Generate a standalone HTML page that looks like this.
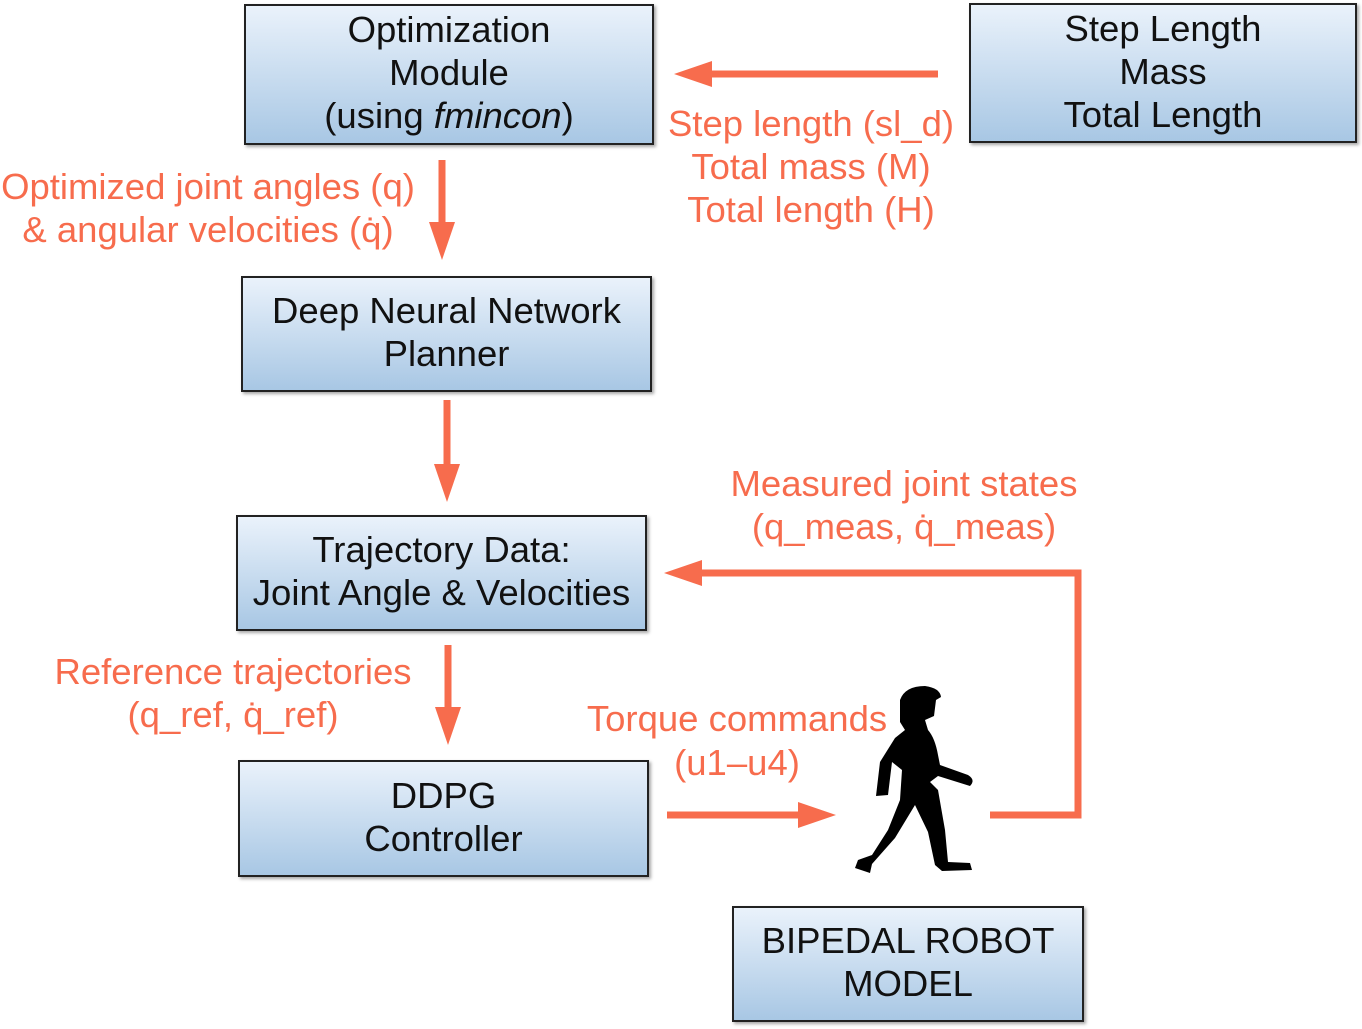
<!DOCTYPE html>
<html><head><meta charset="utf-8"><style>
body{margin:0;background:#fff;width:1362px;height:1029px;position:relative;overflow:hidden;font-family:"Liberation Sans",Arial,sans-serif}
.b{position:absolute;box-sizing:border-box;border:2px solid #222;background:linear-gradient(#eaf2fb,#a8c7e4);display:flex;justify-content:center;align-items:center;text-align:center;font-size:36.5px;line-height:43px;color:#111;box-shadow:2px 2px 3px rgba(0,0,0,.35);white-space:nowrap;padding-bottom:4px}
.b>div{display:block}
.t{position:absolute;color:#f76c4d;font-size:36.5px;line-height:43px;text-align:center;white-space:nowrap;transform:translateX(-50%)}
</style></head><body>
<div class="b" style="left:244px;top:4px;width:410px;height:141px"><div>Optimization<br>Module<br>(using <i>fmincon</i>)</div></div>
<div class="b" style="left:969px;top:3px;width:388px;height:140px"><div>Step Length<br>Mass<br>Total Length</div></div>
<div class="b" style="left:241px;top:276px;width:411px;height:116px"><div>Deep Neural Network<br>Planner</div></div>
<div class="b" style="left:236px;top:515px;width:411px;height:116px"><div>Trajectory Data:<br>Joint Angle &amp; Velocities</div></div>
<div class="b" style="left:238px;top:760px;width:411px;height:117px"><div>DDPG<br>Controller</div></div>
<div class="b" style="left:732px;top:906px;width:352px;height:116px"><div>BIPEDAL ROBOT<br>MODEL</div></div>

<div class="t" style="left:208px;top:165px">Optimized joint angles (q)</div>
<div class="t" style="left:208px;top:208px">&amp; angular velocities (q̇)</div>
<div class="t" style="left:811px;top:102px">Step length (sl_d)</div>
<div class="t" style="left:811px;top:145px">Total mass (M)</div>
<div class="t" style="left:811px;top:188px">Total length (H)</div>
<div class="t" style="left:904px;top:462px">Measured joint states</div>
<div class="t" style="left:904px;top:505px">(q_meas, q̇_meas)</div>
<div class="t" style="left:233px;top:650px">Reference trajectories</div>
<div class="t" style="left:233px;top:693px">(q_ref, q̇_ref)</div>
<div class="t" style="left:737px;top:697px">Torque commands</div>
<div class="t" style="left:737px;top:741px">(u1–u4)</div>

<svg width="1362" height="1029" style="position:absolute;left:0;top:0" xmlns="http://www.w3.org/2000/svg">
<g stroke="#f76c4d" stroke-width="7" fill="none">
<line x1="938" y1="74" x2="705" y2="74"/>
<line x1="442" y1="160" x2="442" y2="225"/>
<line x1="447" y1="400" x2="447" y2="466"/>
<line x1="448" y1="645" x2="448" y2="710"/>
<line x1="667" y1="815" x2="800" y2="815"/>
<polyline points="990,815 1078,815 1078,573 700,573"/>
</g>
<g fill="#f76c4d">
<polygon points="674,74 712,61 712,87"/>
<polygon points="442,260 429,222 455,222"/>
<polygon points="447,502 434,464 460,464"/>
<polygon points="448,745 435,707 461,707"/>
<polygon points="836,815 798,802 798,828"/>
<polygon points="664,573 702,560 702,586"/>
</g>
<path fill="#000" d="M900,700 Q905,686 925,686 Q940,688 941,697 L936,700 L934,716 L925,720 L928,730 Q935,738 938,755 L940,765 L968,775 Q976,780 970,786 L938,776 L930,782 L938,790 L945,830 L948,862 L970,863 L972,870 L942,871 L935,865 L928,832 L915,805 L895,838 L872,864 L870,873 L855,868 L858,860 L872,855 L888,830 L900,800 L902,770 L892,762 L888,795 L876,796 L880,762 L895,738 L905,730 L900,722 Z"/>
</svg>
</body></html>
